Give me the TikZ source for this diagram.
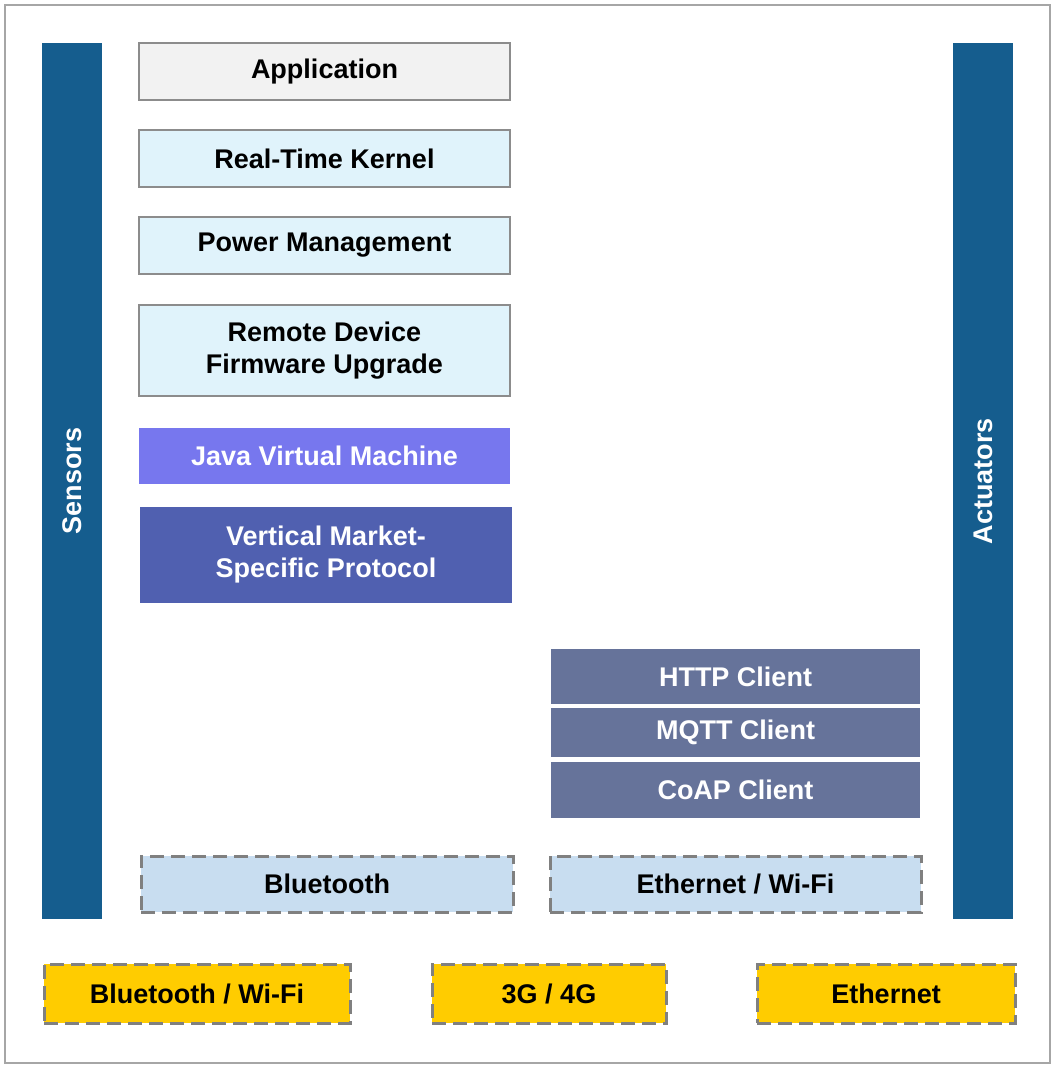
\documentclass[tikz,border=0pt]{standalone}
\usepackage{fontspec}
\setmainfont{Liberation Sans}
\definecolor{bar}{RGB}{21,93,142}
\definecolor{lb}{RGB}{224,243,251}
\definecolor{jvm}{RGB}{119,119,238}
\definecolor{vm}{RGB}{80,96,176}
\definecolor{cl}{RGB}{102,115,154}
\definecolor{bt}{RGB}{200,221,240}
\definecolor{yl}{RGB}{255,204,0}
\begin{document}
\begin{tikzpicture}[x=1pt,y=-1pt,
 box/.style={draw=gray!90,line width=1.5pt,font=\fontsize{27}{32}\selectfont\bfseries,align=center,inner sep=0pt},
 fillbox/.style={font=\fontsize{27}{32}\selectfont\bfseries,text=white,align=center,inner sep=0pt},
 dashbox/.style={draw=gray,line width=3pt,dash pattern=on 14pt off 7pt,font=\fontsize{27}{32}\selectfont\bfseries,align=center,inner sep=0pt}]
\useasboundingbox (0,0) rectangle (1055,1068);
\draw[gray!70,line width=1.5pt] (5,5) rectangle (1050,1063);
\path[fill=bar] (42,43) rectangle (102,919);
\node[fillbox,rotate=90] (sen) at (72,481) {Sensors};
\path[fill=bar] (953,43) rectangle (1013,919);
\node[fillbox,rotate=90] (act) at (983,481) {Actuators};
\node[box,fill=gray!10,minimum width=371pt,minimum height=57pt] (app) at (324.5,71.5) {Application};
\node[box,fill=lb,minimum width=371pt,minimum height=57pt] (rtk) at (324.5,158.5) {Real-Time Kernel};
\node[box,fill=lb,minimum width=371pt,minimum height=57pt] (pm) at (324.5,245.5) {Power Management};
\node[box,fill=lb,minimum width=371pt,minimum height=91pt] (rd) at (324.5,350.5) {Remote Device\\Firmware Upgrade};
\node[fillbox,fill=jvm,minimum width=371pt,minimum height=56pt] (jvm) at (324.5,456) {Java Virtual Machine};
\node[fillbox,fill=vm,minimum width=372pt,minimum height=96pt] (vm) at (326,555) {Vertical Market-\\Specific Protocol};
\node[fillbox,fill=cl,minimum width=369pt,minimum height=55pt] (http) at (735.5,676.5) {HTTP Client};
\node[fillbox,fill=cl,minimum width=369pt,minimum height=49pt] (mqtt) at (735.5,732.5) {MQTT Client};
\node[fillbox,fill=cl,minimum width=369pt,minimum height=56pt] (coap) at (735.5,790) {CoAP Client};
\node[dashbox,fill=bt,minimum width=372pt,minimum height=56pt] (bt) at (327,884) {Bluetooth};
\node[dashbox,fill=bt,minimum width=371pt,minimum height=56pt] (eth) at (735.5,884) {Ethernet / Wi-Fi};
\node[dashbox,fill=yl,minimum width=306pt,minimum height=59pt] (bw) at (197,993.5) {Bluetooth / Wi-Fi};
\node[dashbox,fill=yl,minimum width=234pt,minimum height=59pt] (g) at (549,993.5) {3G / 4G};
\node[dashbox,fill=yl,minimum width=258pt,minimum height=59pt] (e) at (886,993.5) {Ethernet};
\end{tikzpicture}
\end{document}
